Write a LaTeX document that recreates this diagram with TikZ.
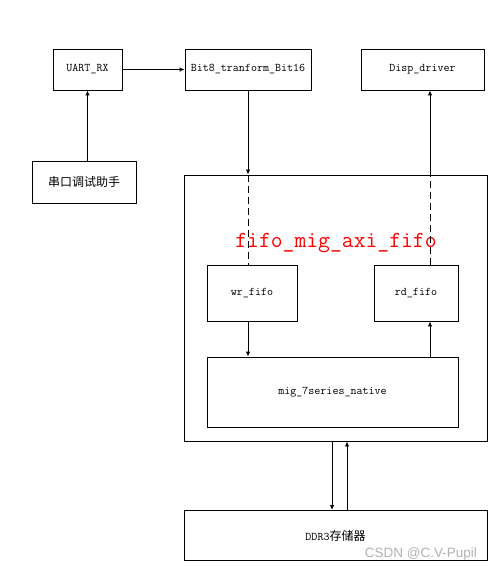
\documentclass[tikz,border=0pt]{standalone}
\usepackage{fontspec}
\newfontfamily\cjk{Noto Sans CJK SC}
\newfontfamily\wmfont{Liberation Sans}
\usetikzlibrary{arrows.meta}
\begin{document}
\begin{tikzpicture}[x=1bp,y=-1bp,
  blk/.style={draw,line width=0.9bp,inner sep=0pt,font=\ttfamily\fontsize{11.7bp}{13bp}\selectfont},
  conn/.style={line width=0.9bp,-{Latex[length=5bp,width=4.5bp]}},
  dsh/.style={line width=0.9bp,dash pattern=on 7bp off 4bp}]
\useasboundingbox (0,0) rectangle (491,572);
\fill[white] (0,0) rectangle (491,572);
\node[blk,minimum width=69bp,minimum height=41bp] (uart) at (87.5,69.5) {UART\_RX};
\node[blk,minimum width=126bp,minimum height=41bp] (bit) at (248,69.5) {Bit8\_tranform\_Bit16};
\node[blk,minimum width=123bp,minimum height=41bp] (disp) at (422.5,69.5) {Disp\_driver};
\node[blk,minimum width=104bp,minimum height=42bp,font=\cjk\fontsize{12bp}{14bp}\selectfont] (ser) at (84,182) {串口调试助手};
\node[blk,minimum width=303bp,minimum height=266bp] (outer) at (335.5,308) {};
\node[text=red,font=\ttfamily\fontsize{23bp}{25bp}\selectfont,inner sep=0pt] (title) at (336,243) {fifo\_mig\_axi\_fifo};
\node[blk,minimum width=90bp,minimum height=56bp] (wr) at (252,293) {wr\_fifo};
\node[blk,minimum width=84bp,minimum height=56bp] (rd) at (416,293) {rd\_fifo};
\node[blk,minimum width=251bp,minimum height=70bp] (mig) at (332.5,392) {mig\_7series\_native};
\node[blk,minimum width=303bp,minimum height=50bp] (ddr) at (335.5,535.5) {DDR3{\cjk\fontsize{12bp}{14bp}\selectfont 存储器}};
\node[text=gray!60,font=\wmfont\fontsize{13.5bp}{15bp}\selectfont,anchor=east,inner sep=0pt] (wm) at (477,554) {CSDN @C.V-Pupil};
\coordinate (lx) at (248,0);
\coordinate (rx) at (430,0);
\coordinate (dx) at (332,0);
\coordinate (ux) at (347,0);
% connections
\draw[conn] (uart) -- (bit);
\draw[conn] (ser.north -| uart) -- (uart);
\draw[conn] (bit.south -| lx) -- (outer.north -| lx);
\draw[dsh] (outer.north -| lx) -- (wr.north -| lx);
\draw[dsh] (rd.north -| rx) -- (outer.north -| rx);
\draw[conn] (outer.north -| rx) -- (disp.south -| rx);
\draw[conn] (wr.south -| lx) -- (mig.north -| lx);
\draw[conn] (mig.north -| rx) -- (rd.south -| rx);
\draw[conn] (outer.south -| dx) -- (ddr.north -| dx);
\draw[conn] (ddr.north -| ux) -- (outer.south -| ux);
\end{tikzpicture}
\end{document}
